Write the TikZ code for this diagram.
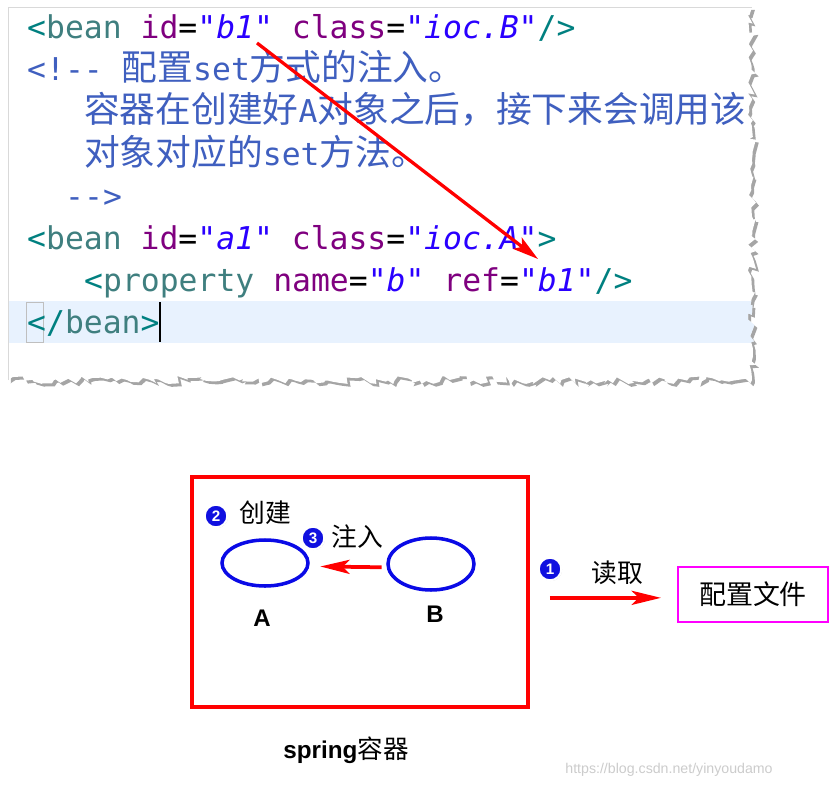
\documentclass[tikz,border=0pt]{standalone}
\usepackage{fontspec}
\setmonofont{DejaVu Sans Mono}
\setsansfont{Liberation Sans}
\newfontfamily\cjk{Noto Sans CJK SC}
\usetikzlibrary{arrows.meta,shapes.geometric,shadows,decorations.pathmorphing}
\definecolor{tagc}{HTML}{008080}
\definecolor{elemc}{HTML}{3F7F7F}
\definecolor{attrc}{HTML}{7F007F}
\definecolor{valc}{HTML}{2A00FF}
\definecolor{cmtc}{HTML}{3F5FBF}
\definecolor{bandc}{HTML}{E8F2FE}
\definecolor{objblue}{HTML}{0A0AE6}
\definecolor{dotblue}{HTML}{1010E0}
\definecolor{cfgpink}{HTML}{FF00FF}
\newcommand{\codefont}{\ttfamily\fontsize{26.8}{30}\selectfont}
\newcommand{\zh}[1]{{\cjk\fontsize{30.5}{30}\selectfont #1}}
\newcommand{\xtag}[1]{\textcolor{tagc}{#1}}
\newcommand{\xelem}[1]{\textcolor{elemc}{#1}}
\newcommand{\xattr}[1]{\textcolor{attrc}{#1}}
\newcommand{\xval}[1]{\textcolor{valc}{\itshape #1}}
\newcommand{\panelpath}{(8,7) -- (752,7) decorate[decoration={random steps,segment length=4pt,amplitude=3.5pt}]{-- (752,380) -- (8,380)} -- cycle}

\begin{document}
\begin{tikzpicture}[x=0.03cm,y=-0.03cm,
  codeline/.style={anchor=base west,inner sep=0,font=\codefont},
  obj/.style={ellipse,draw=objblue,line width=3pt,minimum width=2.58cm,inner sep=0},
  numdot/.style={circle,fill=dotblue,draw=white,line width=1.8pt,text=white,
    font=\sffamily\bfseries\fontsize{13}{13}\selectfont,inner sep=0,minimum size=0.68cm,
    drop shadow={shadow xshift=0.6pt,shadow yshift=-0.6pt,opacity=0.45}},
  zhlabel/.style={font=\cjk\fontsize{22}{24}\selectfont,inner sep=0},
  redarrow/.style={draw=red,line width=3.2pt,-{Stealth[length=25pt,width=12pt,inset=6pt]}}]
  \useasboundingbox (0,0) rectangle (840,788);
  \fill[white] (0,0) rectangle (840,788);
  \pgfmathsetseed{17}
  \fill[white,drop shadow={shadow xshift=2.5pt,shadow yshift=-2.5pt,opacity=0.7}] \panelpath;
  \begin{scope}
    \pgfmathsetseed{17}
    \clip \panelpath;
    \fill[bandc] (8,301) rectangle (760,343);
  \end{scope}
  \draw[gray!30,line width=0.8pt] (8,380) -- (8,7) -- (752,7);
  \draw[gray!50,line width=0.6pt] (26,302) rectangle (43,342);
  \node[codeline] (l1) at (27,39) {\xtag{<}\xelem{bean} \xattr{id}=\xval{"b1"} \xattr{class}=\xval{"ioc.B"}\xtag{/>}};
  \node[codeline,text=cmtc] (l2) at (27,81) {<!-{}- \zh{配置}set\zh{方式的注入。}};
  \node[codeline,text=cmtc] (l3) at (84,123) {\zh{容器在创建好}A\zh{对象之后，接下来会调用该}};
  \node[codeline,text=cmtc] (l4) at (84,165) {\zh{对象对应的}set\zh{方法。}};
  \node[codeline,text=cmtc] (l5) at (65,207) {-{}->};
  \node[codeline] (l6) at (27,249) {\xtag{<}\xelem{bean} \xattr{id}=\xval{"a1"} \xattr{class}=\xval{"ioc.A"}\xtag{>}};
  \node[codeline] (l7) at (84,291) {\xtag{<}\xelem{property} \xattr{name}=\xval{"b"} \xattr{ref}=\xval{"b1"}\xtag{/>}};
  \node[codeline] (l8) at (27,333) {\xtag{</}\xelem{bean}\xtag{>}};
  \draw[line width=1.3pt] (l8.east |- 0,302) -- (l8.east |- 0,342);
  \coordinate (idb) at (257,43);
  \coordinate (refb) at (538,259);
  \draw[redarrow,line width=2.8pt,-{Stealth[length=22pt,width=12pt,inset=5pt]}] (idb) -- (refb);

  \node[draw=red,fill=white,line width=3.3pt,minimum width=10.08cm,minimum height=6.9cm,
    drop shadow={shadow xshift=1.5pt,shadow yshift=-1.5pt,opacity=0.3}] (box) at (360,592) {};
  \node[obj,minimum height=1.38cm] (objA) at (265,563) {};
  \node[obj,minimum height=1.56cm] (objB) at (431,564) {};
  \node[font=\sffamily\bfseries\fontsize{20.5}{22}\selectfont] (lblA) at (262,618) {A};
  \node[font=\sffamily\bfseries\fontsize{20.5}{22}\selectfont] (lblB) at (435,614) {B};
  \draw[redarrow,shorten >=9pt,shorten <=4pt] ([yshift=-0.1cm]objB.west) -- ([yshift=-0.1cm]objA.east);
  \node[numdot] (n2) at (216,516) {2};
  \node[zhlabel] (create) at (265,513) {创建};
  \node[numdot] (n3) at (313,538) {3};
  \node[zhlabel] (inject) at (357,537) {注入};
  \node[draw=cfgpink,line width=1pt,minimum width=4.5cm,minimum height=1.65cm,
    font=\cjk\fontsize{23}{24}\selectfont] (cfg) at (753,594.5) {配置文件};
  \node[numdot] (n1) at (550,569) {1};
  \node[zhlabel] (read) at (617,573) {读取};
  \draw[redarrow,shorten <=17pt,shorten >=14pt] ([yshift=-0.1cm]box.east |- cfg.west) -- ([yshift=-0.1cm]cfg.west);
  \node[inner sep=0] (title) at (346,750) {\sffamily\bfseries\fontsize{20.7}{22}\selectfont spring\cjk\mdseries\fontsize{21.8}{22}\selectfont 容器};
  \node[text=gray!40,font=\sffamily\fontsize{12.1}{13}\selectfont] (mark) at (669,770) {https://blog.csdn.net/yinyoudamo};
\end{tikzpicture}
\end{document}
